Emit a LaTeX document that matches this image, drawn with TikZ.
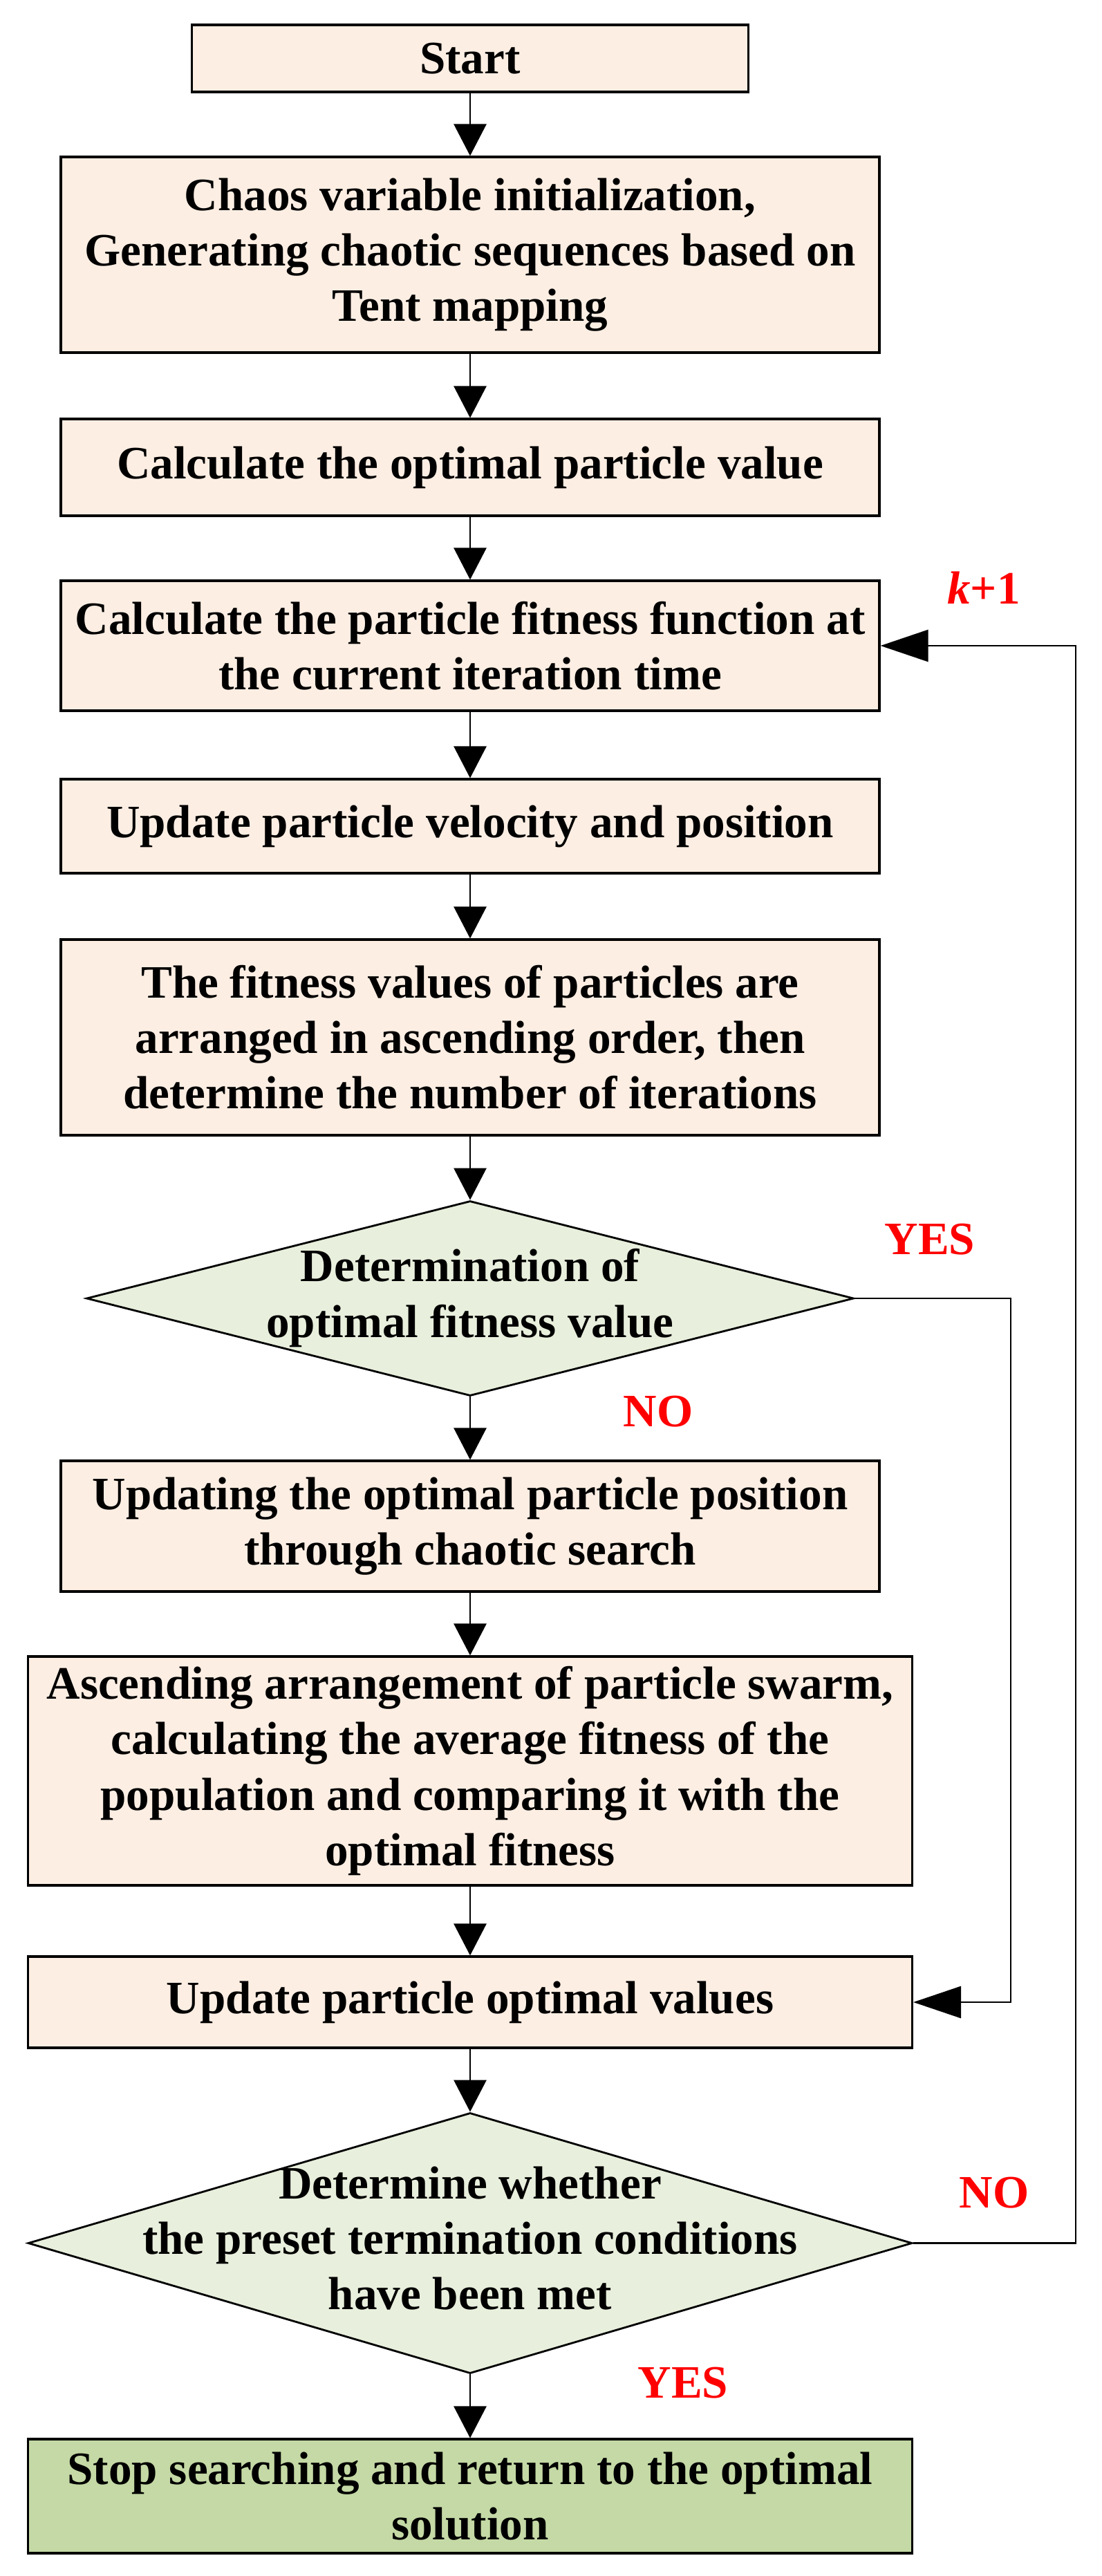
\documentclass[tikz,border=0pt]{standalone}
\usepackage{fontspec}
\setmainfont{Liberation Serif}
\usetikzlibrary{shapes.geometric,arrows.meta,positioning}

\definecolor{procfill}{HTML}{FDEEE3}
\definecolor{decfill}{HTML}{E8EFDC}
\definecolor{endfill}{HTML}{C4D9A5}

\newcommand{\dtext}[1]{\makebox[0pt]{\begin{tabular}{@{}c@{}}#1\end{tabular}}}

\begin{document}
\begin{tikzpicture}[
  font=\fontsize{19.1}{22.8}\selectfont\bfseries,
  box/.style = {draw, line width=0.9pt, fill=procfill, align=center,
      inner sep=0pt},
  decision/.style = {diamond, draw, line width=0.8pt, fill=decfill,
      inner sep=0pt},
  down/.style = {draw, line width=0.75pt,
      -{Triangle[length=4.6mm,width=4.7mm]}},
  back/.style = {draw, line width=0.75pt,
      -{Triangle[length=6.9mm,width=4.6mm]}},
  answer/.style = {text=red}
  ]
  \useasboundingbox (0,0) rectangle (15.93,-37.26);
  % process chain
  \node[box, minimum width=8.05cm, minimum height=0.97cm] (start) at (6.80,-0.845) {Start};
  \node[box, minimum width=11.84cm, minimum height=2.83cm] (chaos) at (6.80,-3.685)
    {Chaos variable initialization,\\Generating chaotic sequences based on\\Tent mapping};
  \node[box, minimum width=11.84cm, minimum height=1.40cm] (optval) at (6.80,-6.76)
    {Calculate the optimal particle value};
  \node[box, minimum width=11.84cm, minimum height=1.88cm] (fitness) at (6.80,-9.34)
    {Calculate the particle fitness function at\\the current iteration time};
  \node[box, minimum width=11.84cm, minimum height=1.36cm] (velocity) at (6.80,-11.95)
    {Update particle velocity and position};
  \node[box, minimum width=11.84cm, minimum height=2.83cm] (ascend) at (6.80,-15.005)
    {The fitness values of particles are\\arranged in ascending order, then\\determine the number of iterations};
  \node[decision, minimum width=11.10cm, minimum height=2.82cm] (dec1) at (6.80,-18.78)
    {\dtext{Determination of\\optimal fitness value}};
  \node[box, minimum width=11.84cm, minimum height=1.89cm] (search) at (6.80,-22.075)
    {Updating the optimal particle position\\through chaotic search};
  \node[box, minimum width=12.79cm, minimum height=3.31cm] (swarm) at (6.80,-25.615)
    {Ascending arrangement of particle swarm,\\calculating the average fitness of the\\population and comparing it with the\\optimal fitness};
  \node[box, minimum width=12.79cm, minimum height=1.32cm] (best) at (6.80,-28.96)
    {Update particle optimal values};
  \node[decision, minimum width=12.79cm, minimum height=3.77cm] (dec2) at (6.80,-32.445)
    {\dtext{Determine whether\\the preset termination conditions\\have been met}};
  \node[box, fill=endfill, minimum width=12.79cm, minimum height=1.65cm] (stop) at (6.80,-36.105)
    {Stop searching and return to the optimal\\solution};
  % answers
  \node[answer] (yes1) at (13.45,-17.93) {YES};
  \node[answer] (no1) at (9.52,-20.42) {NO};
  \node[answer] (no2) at (14.38,-31.72) {NO};
  \node[answer] (yes2) at (9.88,-34.47) {YES};
  \node[answer] (iter) at (14.23,-8.50) {\textit{k}+1};
  \coordinate (yesx) at (14.62,0);
  \coordinate (loopx) at (15.56,0);
  % connectors
  \foreach \a/\b in {start/chaos, chaos/optval, optval/fitness, fitness/velocity,
      velocity/ascend, ascend/dec1, dec1/search, search/swarm, swarm/best,
      best/dec2, dec2/stop}
    \draw[down] (\a) -- (\b);
  \draw[back] (dec1.east) -- (dec1.east -| yesx) |- (best.east);
  \draw[back] (dec2.east) -- (dec2.east -| loopx) |- (fitness.east);
\end{tikzpicture}
\end{document}
